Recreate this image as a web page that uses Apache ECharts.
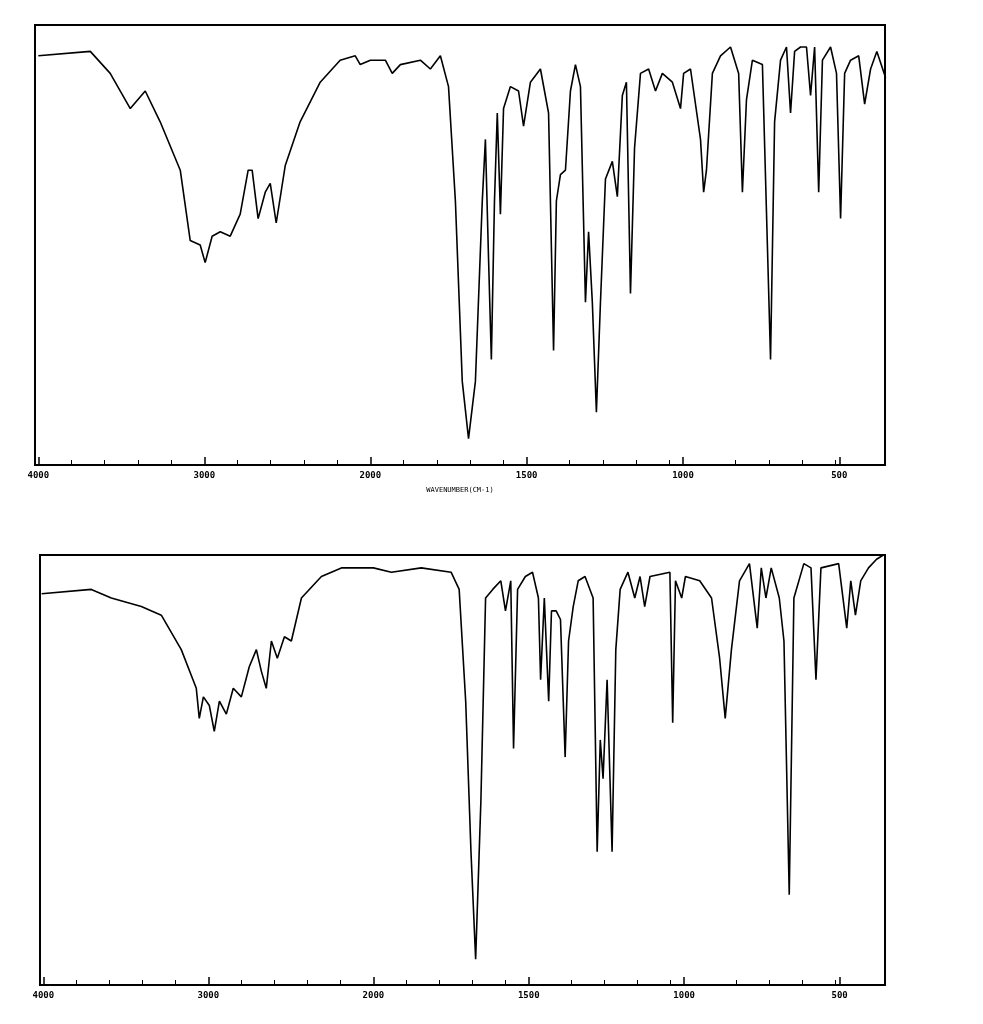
<!DOCTYPE html>
<html><head><meta charset="utf-8">
<script src="https://cdn.jsdelivr.net/npm/echarts@6/dist/echarts.min.js"></script>
<style>html,body{margin:0;background:#fff}#c{width:983px;height:1024px}</style></head>
<body><div id="c"></div>
<script>
const tickWavenumbers=[4000,3000,2000,1500,1000,500];
const topWn=[4000,3687,3567,3446,3356,3266,3145,3085,3025,2995,2953,2904,2844,2784,2736,2712,2676,2633,2603,2567,2513,2423,2302,2182,2091,2061,2000,1952,1930,1904,1840,1808,1776,1750,1728,1706,1686,1664,1642,1632,1622,1613,1603,1594,1584,1574,1552,1526,1510,1488,1456,1430,1414,1405,1392,1376,1360,1344,1328,1312,1302,1290,1277,1264,1248,1226,1210,1194,1181,1168,1155,1136,1110,1088,1066,1034,1008,998,976,944,934,925,906,880,848,822,810,797,778,746,720,707,688,669,656,643,624,605,592,579,566,554,528,509,496,483,464,438,419,400,380,352];
const topT=[93,94,89,81,85,78,67,51,50,46,52,53,52,57,67,67,56,62,64,55,68,78,87,92,93,91,92,92,89,91,92,90,93,86,60,19,6,19,60,74,47,24,60,80,57,81,86,85,77,87,90,80,26,60,66,67,85,91,86,37,53,37,12,37,65,69,61,84,87,39,72,89,90,85,89,87,81,89,90,74,62,67,89,93,95,89,62,83,92,91,24,78,92,95,80,94,95,95,84,95,62,92,95,89,56,89,92,93,82,90,94,88];
const botWn=[4010,3709,3588,3406,3285,3164,3073,3055,3030,2994,2964,2933,2891,2849,2800,2752,2709,2679,2649,2618,2582,2539,2497,2436,2315,2194,2000,1942,1846,1750,1724,1703,1686,1671,1654,1639,1616,1590,1575,1558,1549,1536,1511,1488,1469,1462,1450,1436,1427,1412,1398,1383,1372,1357,1341,1319,1293,1280,1270,1261,1248,1232,1220,1206,1181,1159,1142,1127,1110,1046,1037,1028,1008,996,950,912,886,868,848,822,790,765,752,737,720,694,679,662,647,615,592,576,560,503,477,464,449,432,407,381,359];
const botT=[91,92,90,88,86,78,69,62,67,65,59,66,63,69,67,74,78,73,69,80,76,81,80,90,95,97,97,96,97,96,92,66,31,6,43,90,92,94,87,94,55,92,95,96,90,71,90,66,87,87,85,53,80,88,94,95,90,31,57,48,71,31,78,92,96,90,95,88,95,96,61,94,90,95,94,90,76,62,78,94,98,83,97,90,97,90,80,21,90,98,97,71,97,98,83,94,86,94,97,99,100];
function u(w){return w>=2000?(4000-w)/1000:2+(2000-w)/531;}
function wOf(v){return v<=2?Math.round(4000-v*1000):Math.round(2000-(v-2)*531);}
const ticksU=tickWavenumbers.map(u);
function ax(idx){return {type:'value',gridIndex:idx,min:-0.02,max:5.1,
 axisLine:{onZero:false,lineStyle:{color:'#000',width:2}},
 axisTick:{customValues:ticksU,length:-8,lineStyle:{color:'#000',width:1.5}},
 minorTick:{show:true,splitNumber:5,length:-5,lineStyle:{color:'#000'}},
 splitLine:{show:false},
 axisLabel:{customValues:ticksU,formatter:v=>{const w=wOf(v);return tickWavenumbers.reduce((a,b)=>Math.abs(b-w)<Math.abs(a-w)?b:a);},
  color:'#000',fontSize:9,fontWeight:'bold',fontFamily:'DejaVu Sans Mono',margin:6},
 name:idx===0?'WAVENUMBER(CM-1)':'',nameLocation:'middle',nameGap:22,nameTextStyle:{fontSize:7,fontFamily:'DejaVu Sans Mono',color:'#000'}};}
function ay(idx){return {type:'value',gridIndex:idx,min:0,max:100,show:false};}
const chart=echarts.init(document.getElementById('c'));
chart.setOption({animation:false,
 grid:[{left:35,top:25,width:850,height:440,show:true,borderColor:'#000',borderWidth:2},
       {left:40,top:555,width:845,height:430,show:true,borderColor:'#000',borderWidth:2}],
 xAxis:[ax(0),ax(1)],yAxis:[ay(0),ay(1)],
 series:[
  {type:'line',xAxisIndex:0,yAxisIndex:0,showSymbol:false,data:topWn.map((w,i)=>[u(w),topT[i]]),lineStyle:{color:'#000',width:1.6}},
  {type:'line',xAxisIndex:1,yAxisIndex:1,showSymbol:false,data:botWn.map((w,i)=>[u(w),botT[i]]),lineStyle:{color:'#000',width:1.6}}
 ]});
</script></body></html>
